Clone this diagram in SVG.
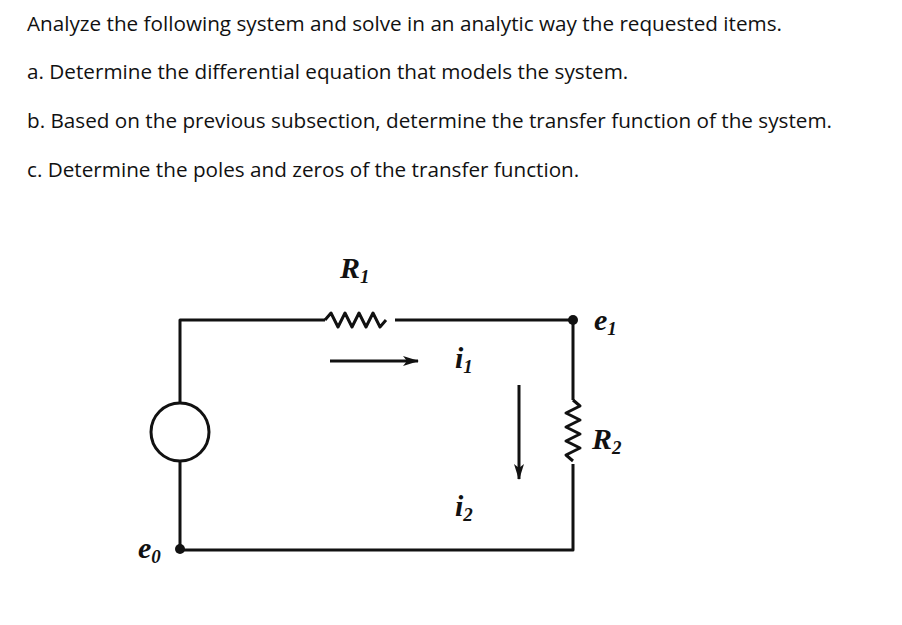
<svg xmlns="http://www.w3.org/2000/svg" width="902" height="625" viewBox="0 0 902 625">
<style>
.q{font-family:"Open Sans","Liberation Sans",sans-serif;font-size:20.7px;fill:#111}
.w{stroke:#111;stroke-width:3;fill:none;stroke-linejoin:round}
.l{font-family:"Liberation Serif",serif;font-style:italic;font-weight:bold;font-size:30px;fill:#111}
.s{font-size:19px}
</style>
<defs><marker id="ah" markerWidth="16" markerHeight="10" refX="15" refY="5" orient="auto" markerUnits="userSpaceOnUse"><path d="M0,0 L16,5 L0,10 L4,5 Z" fill="#111"/></marker></defs>
<rect width="902" height="625" fill="#fff"/>
<text class="q" x="27" y="31">Analyze the following system and solve in an analytic way the requested items.</text>
<text class="q" x="27" y="79">a. Determine the differential equation that models the system.</text>
<text class="q" x="27" y="128">b. Based on the previous subsection, determine the transfer function of the system.</text>
<text class="q" x="27" y="177">c. Determine the poles and zeros of the transfer function.</text>
<g id="connectors">
<path class="w" d="M180,402 V320 H325 M395,320 H573 V400 M573,464 V550 H180 V462"/>
<path class="w" stroke-width="2" d="M330,361 H418" marker-end="url(#ah)"/>
<path class="w" stroke-width="2" d="M519,385 V479" marker-end="url(#ah)"/>
</g>
<g id="R1"><path class="w" d="M325,320 l6,-7 l7,14 l7,-14 l7,14 l7,-14 l7,14 l7,-14 l7,14 l6,-7"/><text class="l" x="340" y="278">R<tspan class="s" dy="5">1</tspan></text></g>
<g id="R2"><path class="w" d="M573,400 l7,6 l-14,7 l14,7 l-14,7 l14,7 l-14,7 l14,7 l-14,7 l7,6"/><text class="l" x="592" y="449">R<tspan class="s" dy="5">2</tspan></text></g>
<g id="source"><circle class="w" cx="180" cy="432" r="29"/></g>
<g id="e1"><circle cx="573" cy="320" r="5" fill="#111"/><text class="l" x="594" y="330">e<tspan class="s" dy="5">1</tspan></text></g>
<g id="e0"><circle cx="180" cy="549" r="5" fill="#111"/><text class="l" x="138" y="558">e<tspan class="s" dy="5">0</tspan></text></g>
<g id="i1"><text class="l" x="455" y="368">i<tspan class="s" dy="5">1</tspan></text></g>
<g id="i2"><text class="l" x="455" y="516">i<tspan class="s" dy="5">2</tspan></text></g>
</svg>
